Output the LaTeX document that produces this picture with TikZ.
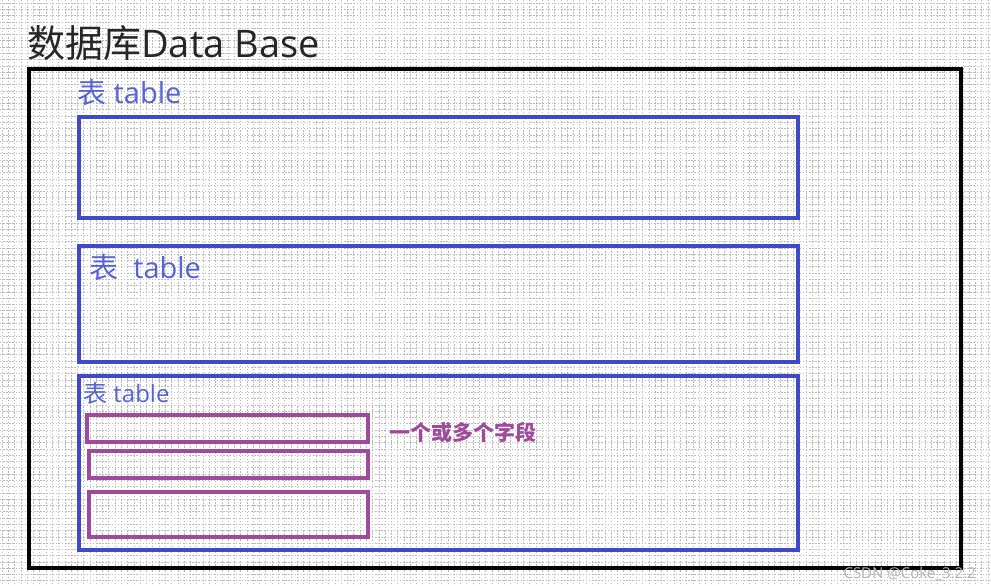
\documentclass[tikz,border=0pt]{standalone}
\usepackage{fontspec}
\setmainfont{Open Sans}
\newfontfamily\cjk{Noto Sans CJK SC}
\begin{document}
\begin{tikzpicture}[x=1pt,y=-1pt,
  box/.style={draw,rectangle,inner sep=0pt,outer sep=0pt,anchor=north west},
  outerbox/.style={box,draw=black,line width=4pt},
  tblbox/.style={box,draw=tblblue,line width=4pt},
  fieldbox/.style={box,draw=fieldpurple,line width=4pt},
  tbllabel/.style={anchor=base west,inner sep=0pt,text=lblblue,font=\fontsize{29}{33}\selectfont},
  gridline/.style={gray!55,line width=0.55pt,dash pattern=on 1.4pt off 1.7pt}]
\definecolor{tblblue}{HTML}{4049C6}
\definecolor{lblblue}{HTML}{5563D4}
\definecolor{fieldpurple}{HTML}{A04A9C}
\useasboundingbox (0,0) rectangle (991,586);
\fill[white] (0,0) rectangle (991,586);
\foreach \i in {0,...,158} {\draw[gridline] (2+\i*6.28,0) -- (2+\i*6.28,586);}
\foreach \j in {0,...,93} {\draw[gridline] (0,3+\j*6.28) -- (991,3+\j*6.28);}
% title
\node[anchor=base west,inner sep=0pt,text=black!85,font=\fontsize{38}{42}\selectfont] (title) at (27,58) {{\cjk 数据库}Data Base};
% outer database box
\node[outerbox,minimum width=932pt,minimum height=499pt] (db) at (29,69) {};
% table 1
\node[tbllabel] (l1) at (77,103) {{\cjk 表} table};
\node[tblbox,minimum width=719pt,minimum height=101pt] (t1) at (79,117) {};
% table 2
\node[tbllabel] (l2) at (89,278) {{\cjk 表}\ \ table};
\node[tblbox,minimum width=719pt,minimum height=116pt] (t2) at (79,246) {};
% table 3
\node[tbllabel,font=\fontsize{24}{28}\selectfont] (l3) at (83,402) {{\cjk 表} table};
\node[tblbox,minimum width=719pt,minimum height=174pt] (t3) at (79,376) {};
% fields
\node[fieldbox,minimum width=281pt,minimum height=27pt] (f1) at (87,415) {};
\node[fieldbox,minimum width=279pt,minimum height=27pt] (f2) at (89,451) {};
\node[fieldbox,minimum width=279pt,minimum height=45pt] (f3) at (89,492) {};
\node[anchor=base west,inner sep=0pt,text=fieldpurple,font=\cjk\bfseries\fontsize{21}{24}\selectfont] (fl) at (389,440) {一个或多个字段};
% watermark
\node[anchor=base east,inner sep=0pt,text=gray!60,font=\fontsize{15}{18}\selectfont] (wm) at (976,578) {CSDN @Coke\_3.2.2};
\end{tikzpicture}
\end{document}
